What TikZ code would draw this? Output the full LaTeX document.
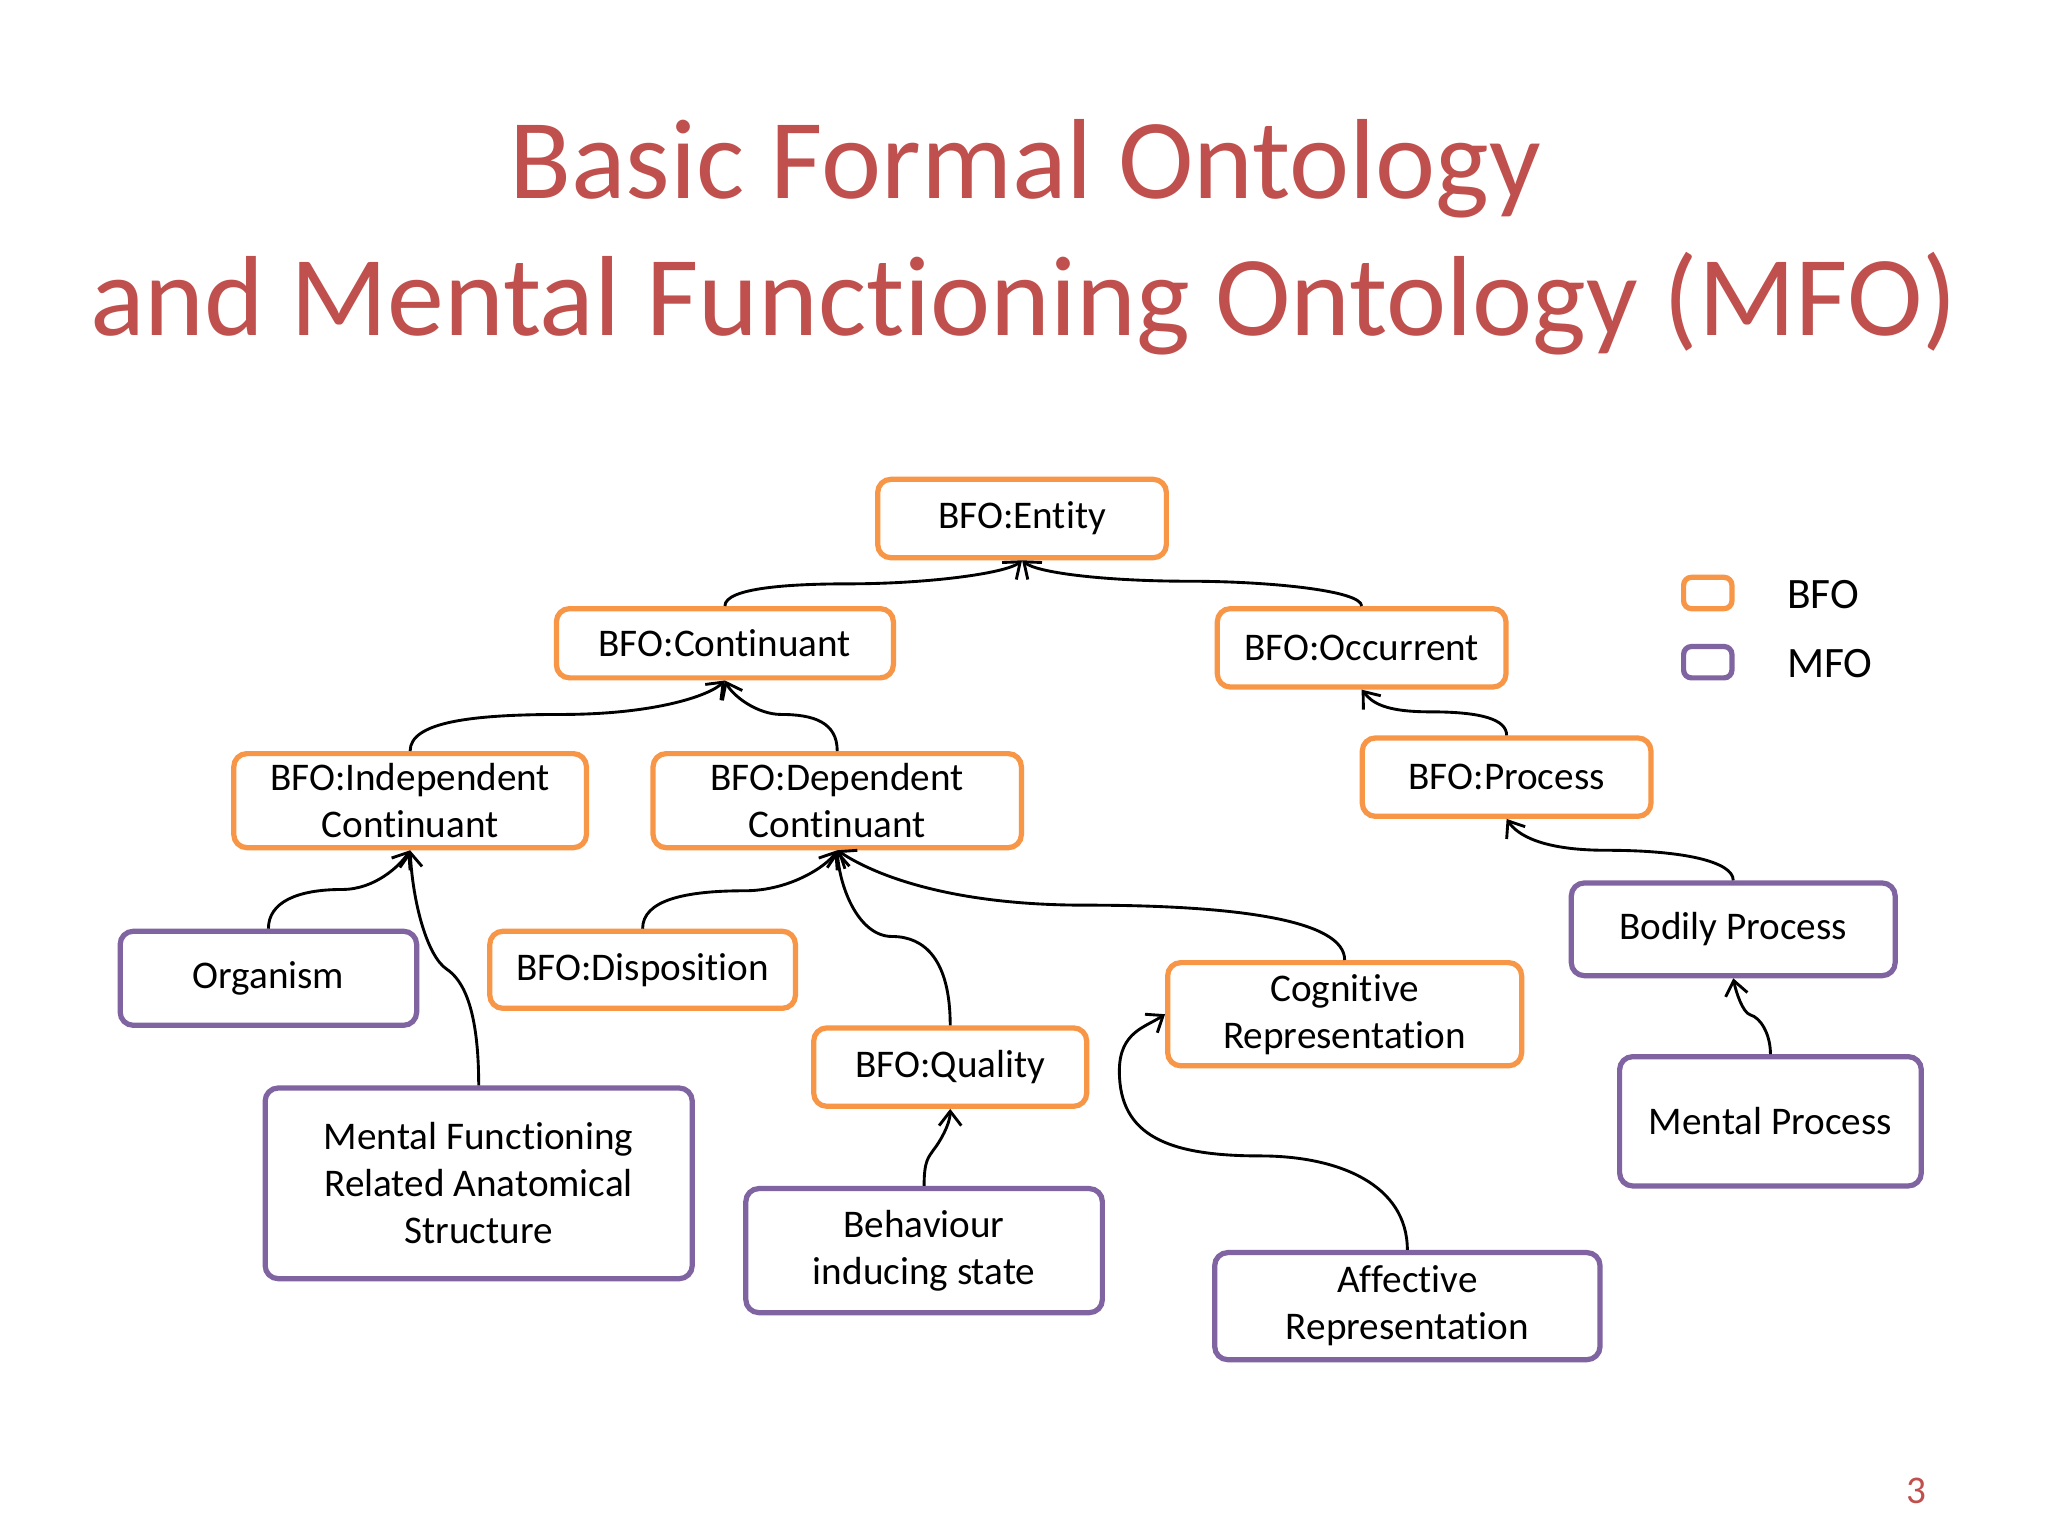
\documentclass[tikz,border=0pt]{standalone}
\usepackage{fontspec}
\setmainfont[Ligatures=NoCommon]{Carlito}
\usetikzlibrary{arrows.meta}
\definecolor{bfo}{HTML}{F79646}
\definecolor{mfo}{HTML}{8064A2}
\definecolor{ttl}{HTML}{C0504D}
\begin{document}
\begin{tikzpicture}[x=0.5pt,y=-0.5pt,
  box/.style={draw, rounded corners=5pt, line width=2pt, fill=white, align=center, inner sep=0pt, font=\fontsize{15}{18}\selectfont},
  bfobox/.style={box, draw=bfo},
  mfobox/.style={box, draw=mfo},
  conn/.style={draw=black, line width=1.1pt, -{Straight Barb[length=5.5pt,width=8.5pt,line width=1.1pt]}},
  legbox/.style={draw, rounded corners=3pt, line width=2pt, minimum width=18.5pt, minimum height=12pt, inner sep=0pt},
  legtxt/.style={anchor=base west, inner sep=0pt, font=\fontsize{16.6}{20}\selectfont},
  titletxt/.style={anchor=base, inner sep=0pt, text=ttl, font=\fontsize{43.6}{52}\selectfont}]
\useasboundingbox[fill=white] (0,0) rectangle (1568,1176);

% title
\node[titletxt] (t1) at (785,152) {Basic Formal Ontology};
\node[titletxt] (t2) at (784,257) {and Mental Functioning Ontology (MFO)};

% nodes
\node[bfobox, minimum width=110.5pt, minimum height=30pt] (ent) at (782.5,397) {BFO:Entity};
\node[bfobox, minimum width=129pt, minimum height=26.5pt] (con) at (555,492.5) {BFO:Continuant};
\node[bfobox, minimum width=110.5pt, minimum height=30pt] (occ) at (1042.5,496) {BFO:Occurrent};
\node[bfobox, minimum width=135pt, minimum height=36pt] (ind) at (314,613) {BFO:Independent\\Continuant};
\node[bfobox, minimum width=141pt, minimum height=36pt] (dep) at (641,613) {BFO:Dependent\\Continuant};
\node[bfobox, minimum width=110.5pt, minimum height=30pt] (proc) at (1153.5,595) {BFO:Process};
\node[mfobox, minimum width=113.5pt, minimum height=36pt] (org) at (205.5,749) {Organism};
\node[bfobox, minimum width=117pt, minimum height=29.5pt] (dis) at (492,742.5) {BFO:Disposition};
\node[mfobox, minimum width=124pt, minimum height=35.5pt] (bod) at (1327,711.5) {Bodily Process};
\node[bfobox, minimum width=135.5pt, minimum height=39.5pt] (cog) at (1029.5,776.5) {Cognitive\\Representation};
\node[bfobox, minimum width=104.5pt, minimum height=30pt] (qua) at (727.5,817) {BFO:Quality};
\node[mfobox, minimum width=115.5pt, minimum height=49.5pt] (men) at (1355.5,858.5) {Mental Process};
\node[mfobox, minimum width=163.5pt, minimum height=73pt] (mfr) at (366.5,906) {Mental Functioning\\Related Anatomical\\Structure};
\node[mfobox, minimum width=136.5pt, minimum height=47.5pt] (beh) at (707.5,957.5) {Behaviour\\inducing state};
\node[mfobox, minimum width=147.5pt, minimum height=41pt] (aff) at (1077.5,1000) {Affective\\Representation};

% legend
\node[legbox, draw=bfo] (lb) at (1307.5,454) {};
\node[legbox, draw=mfo] (lm) at (1307.5,507) {};
\node[legtxt] (lbt) at (1368,466) {BFO};
\node[legtxt] (lmt) at (1368,519) {MFO};

% page number
\node[anchor=base, inner sep=0pt, text=ttl, font=\fontsize{15}{18}\selectfont] (pg) at (1467,1151) {3};

% connectors
\draw[conn] (con.north) .. controls +(0,-14) and +(-45,0) .. (650,447) .. controls +(60,0) and +(-12,10) .. (ent.south);
\draw[conn] (occ.north) .. controls +(0,-12) and +(60,0) .. (910,445) .. controls +(-60,0) and +(12,10) .. (ent.south);
\draw[conn] (ind.north) .. controls +(0,-22) and +(-70,0) .. (430,547) .. controls +(70,0) and +(-12,12) .. (con.south);
\draw[conn] (dep.north) .. controls +(0,-22) and +(25,0) .. (598,547) .. controls +(-18,0) and +(6,12) .. (con.south);
\draw[conn] (proc.north) .. controls +(0,-12) and +(40,0) .. (1095,545) .. controls +(-35,0) and +(8,10) .. (occ.south);
\draw[conn] (bod.north) .. controls +(0,-14) and +(60,0) .. (1230,651) .. controls +(-50,0) and +(8,12) .. (proc.south);
\draw[conn] (men.north) .. controls +(0,-15) and +(8,2) .. (1340,777) .. controls +(-6,-2) and +(2,10) .. (bod.south);
\draw[conn] (org.north) .. controls +(0,-20) and +(-35,0) .. (262,681) .. controls +(25,0) and +(-8,12) .. (ind.south);
\draw[conn] (mfr.north) .. controls +(0,-60) and +(12,8) .. (342,742) .. controls +(-15,-10) and +(2,40) .. (ind.south);
\draw[conn] (dis.north) .. controls +(0,-22) and +(-45,0) .. (570,682) .. controls +(35,0) and +(-8,12) .. (dep.south);
\draw[conn] (qua.north) .. controls +(0,-50) and +(25,0) .. (683,717) .. controls +(-25,0) and +(2,30) .. (dep.south);
\draw[conn] (cog.north) .. controls +(0,-30) and +(120,0) .. (830,693) .. controls +(-100,0) and +(30,20) .. (dep.south);
\draw[conn] (beh.north) .. controls +(0,-20) and +(-4,6) .. (715,880) .. controls +(4,-5) and +(0,12) .. (qua.south);
\draw[conn] (aff.north) .. controls +(0,-50) and +(60,0) .. (965,885) .. controls +(-70,0) and +(0,50) .. (857,820) .. controls +(0,-30) and +(-15,10) .. (cog.west);
\end{tikzpicture}
\end{document}
